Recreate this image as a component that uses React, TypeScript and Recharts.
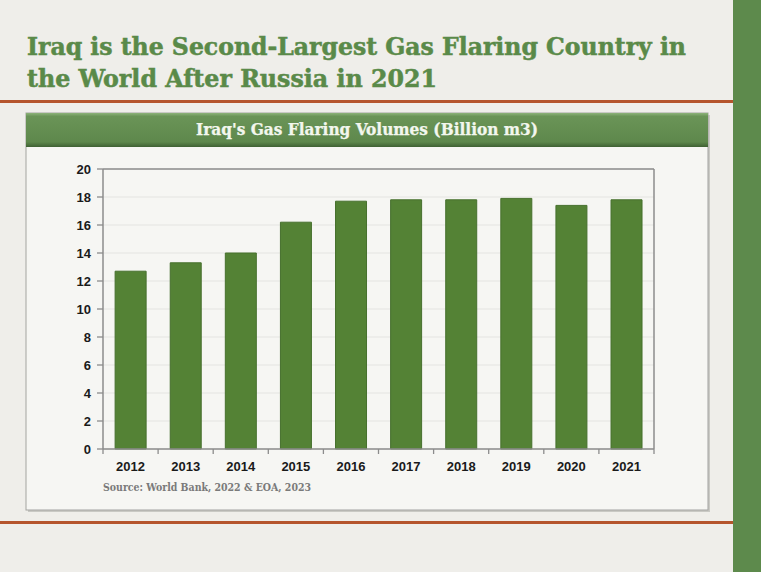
import React from "react";
import { BarChart, Bar, XAxis, YAxis, CartesianGrid, ReferenceLine } from "recharts";

const years = ["2012", "2013", "2014", "2015", "2016", "2017", "2018", "2019", "2020", "2021"];
const flaring = [12.7, 13.3, 14.0, 16.2, 17.7, 17.8, 17.8, 17.9, 17.4, 17.8];
const yTicks = [0, 2, 4, 6, 8, 10, 12, 14, 16, 18, 20];

const titleLines = [
  "Iraq is the Second-Largest Gas Flaring Country in",
  "the World After Russia in 2021",
];
const chartTitle = "Iraq's Gas Flaring Volumes (Billion m3)";
const sourceText = "Source: World Bank, 2022 & EOA, 2023";

const data = years.map((y, i) => ({ year: y, value: flaring[i] }));

const GREEN = "#5a8a49";
const ORANGE = "#b5552d";
const SERIF = "'DejaVu Serif Condensed', 'DejaVu Serif', serif";
const SANS = "'Liberation Sans', Arial, sans-serif";
const AXIS = "#8c8c8c";

const CHART_W = 682;
const CHART_H = 363;
const MARGIN = { top: 22, right: 54, left: 0, bottom: 31 };
const Y_W = 77;
const BAND = (CHART_W - MARGIN.left - MARGIN.right - Y_W) / years.length;

const XTick = (props: any) => {
  const { x, y, payload, index } = props;
  const half = payload && payload.offset ? payload.offset : BAND / 2;
  return (
    <g>
      <line x1={x - half} x2={x - half} y1={y} y2={y + 5} stroke={AXIS} strokeWidth={1.3} />
      {index === years.length - 1 && (
        <line x1={x + half} x2={x + half} y1={y} y2={y + 5} stroke={AXIS} strokeWidth={1.3} />
      )}
      <text x={x} y={y + 22} textAnchor="middle" fontFamily={SANS} fontWeight="bold" fontSize={13} fill="#1a1a1a">
        {payload.value}
      </text>
    </g>
  );
};

const rightEdge = (p: any) => {
  const o = p && p.offset ? p.offset : { left: Y_W + MARGIN.left, width: CHART_W - MARGIN.left - MARGIN.right - Y_W };
  return [o.left + o.width];
};

export default function App() {
  return (
    <div
      style={{
        position: "absolute",
        left: 0,
        top: 0,
        width: 761,
        height: 572,
        background: "#efeeea",
        overflow: "hidden",
      }}
    >
      <svg width={761} height={572} style={{ position: "absolute", left: 0, top: 0 }}>
        <defs>
          <linearGradient id="hdr" x1="0" y1="0" x2="0" y2="1">
            <stop offset="0" stopColor="#8db37a" />
            <stop offset="0.1" stopColor="#6a9457" />
            <stop offset="0.85" stopColor="#5e884c" />
            <stop offset="1" stopColor="#3f6133" />
          </linearGradient>
        </defs>
        <rect x={733} y={0} width={28} height={572} fill="#5d8a4c" />
        <text x={27} y={55} fontFamily={SERIF} fontWeight="bold" fontSize={25} fill={GREEN} stroke={GREEN} strokeWidth={0.5} textLength={659} lengthAdjust="spacingAndGlyphs">
          {titleLines[0]}
        </text>
        <text x={27} y={87} fontFamily={SERIF} fontWeight="bold" fontSize={25} fill={GREEN} stroke={GREEN} strokeWidth={0.5} textLength={410} lengthAdjust="spacingAndGlyphs">
          {titleLines[1]}
        </text>
        <rect x={0} y={100} width={733} height={3} fill={ORANGE} />
        <rect x={0} y={521} width={733} height={3} fill={ORANGE} />
        <rect x={28} y={115} width={682} height={397} fill="#c9c9c4" />
        <rect x={26} y={113} width={682} height={397} fill="#f6f6f3" stroke="#a3a3a0" strokeWidth={1} />
        <rect x={26} y={113} width={682} height={34} fill="url(#hdr)" />
        <text x={367} y={135} textAnchor="middle" fontFamily={SERIF} fontWeight="bold" fontSize={16} fill="#f3f7ee" stroke="#f3f7ee" strokeWidth={0.25} textLength={342} lengthAdjust="spacingAndGlyphs">
          {chartTitle}
        </text>
        <text x={103} y={491} fontFamily={SERIF} fontWeight="bold" fontSize={11} fill="#7a7a7a" textLength={208} lengthAdjust="spacingAndGlyphs">
          {sourceText}
        </text>
      </svg>
      <div style={{ position: "absolute", left: 26, top: 147 }}>
        <BarChart width={CHART_W} height={CHART_H} data={data} margin={MARGIN} barCategoryGap="22%">
          <CartesianGrid vertical={false} stroke="#e4e4e1" strokeWidth={1} />
          <CartesianGrid horizontal={false} verticalCoordinatesGenerator={rightEdge} stroke={AXIS} strokeWidth={1.5} />
          <XAxis
            dataKey="year"
            height={30}
            tickLine={false}
            tickSize={0}
            tickMargin={0}
            axisLine={{ stroke: AXIS, strokeWidth: 1.5 }}
            tick={<XTick />}
            interval={0}
          />
          <YAxis
            width={Y_W}
            domain={[0, 20]}
            ticks={yTicks}
            interval={0}
            tickSize={6}
            tickMargin={6}
            tickLine={{ stroke: AXIS, strokeWidth: 1.3 }}
            axisLine={{ stroke: AXIS, strokeWidth: 1.5 }}
            tick={{ fontFamily: SANS, fontWeight: "bold", fontSize: 13, fill: "#1a1a1a" }}
          />
          <ReferenceLine y={20} stroke={AXIS} strokeWidth={1.5} />
          <Bar dataKey="value" fill="#548235" stroke="#46702d" strokeWidth={1} isAnimationActive={false} />
        </BarChart>
      </div>
    </div>
  );
}
